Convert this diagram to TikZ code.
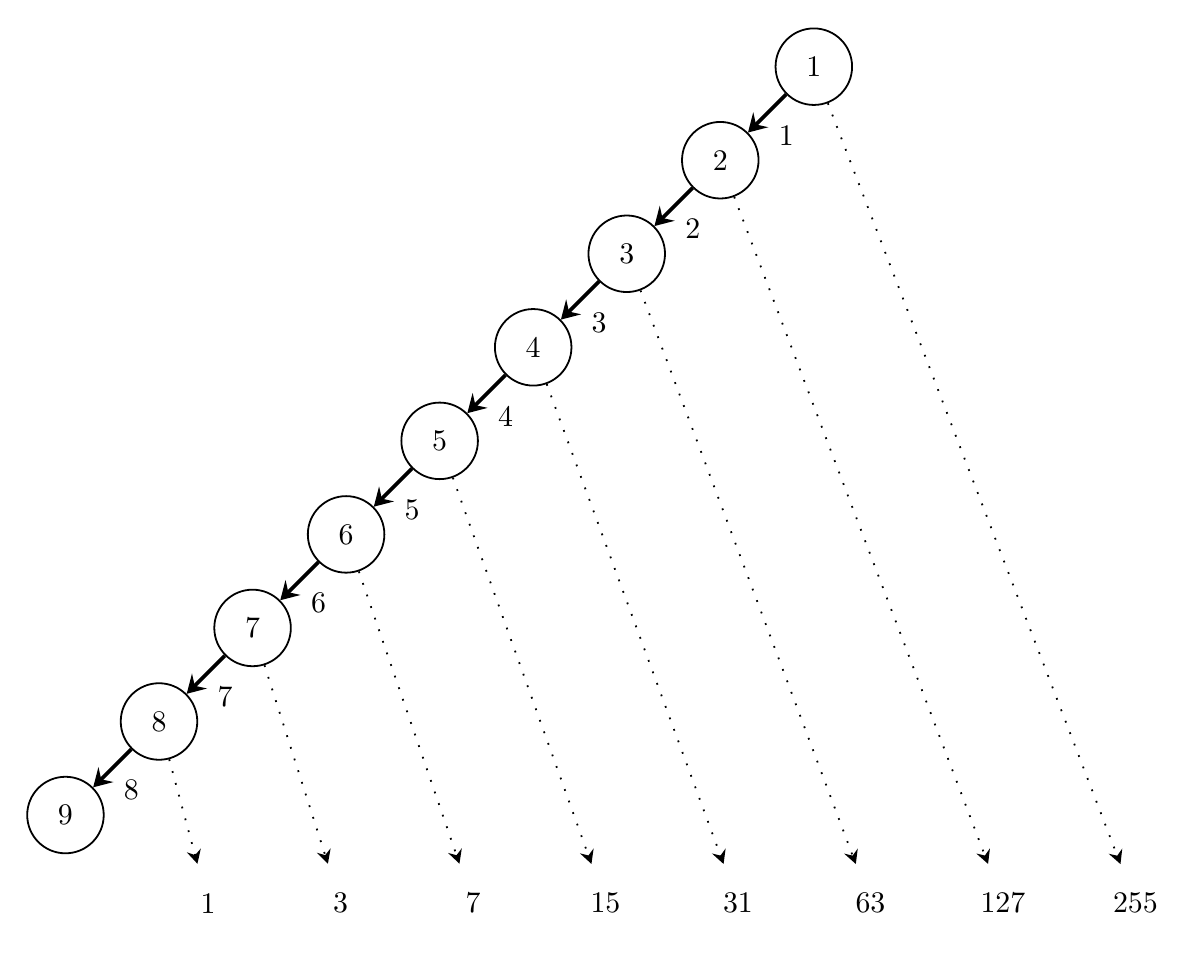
\documentclass[tikz,border=0pt]{standalone}
\usepackage{amsmath}
\usepackage{tikz}
\usetikzlibrary{arrows.meta,positioning}

\begin{document}
\begin{tikzpicture}[node distance=1.1cm and 1.1cm,on grid,
  vertex/.style={circle,draw,semithick,minimum size=0.9cm},
  call/.style={-{Stealth[length=6pt,width=7pt,inset=2.2pt]},very thick},
  cost/.style={-{Stealth[length=4.6pt,width=4.8pt,inset=1.6pt]},semithick,
    dash pattern=on 0.6pt off 3.5pt,shorten >=6.5pt}]
  \useasboundingbox (-9.570,-10.611) rectangle (4.541,0.784);
  % the chain of calls
  \node[vertex] (n1) {1};
  \node[vertex] (n2) [below left=of n1] {2};
  \node[vertex] (n3) [below left=of n2] {3};
  \node[vertex] (n4) [below left=of n3] {4};
  \node[vertex] (n5) [below left=of n4] {5};
  \node[vertex] (n6) [below left=of n5] {6};
  \node[vertex] (n7) [below left=of n6] {7};
  \node[vertex] (n8) [below left=of n7] {8};
  \node[vertex] (n9) [below left=of n8] {9};
  % totals along the bottom
  \node (c1) at (-7.124,-9.835) {1};
  \node (c3) [right=1.558cm of c1] {3};
  \node (c7) [right=1.558cm of c3] {7};
  \node (c15) [right=1.558cm of c7] {15};
  \node (c31) [right=1.558cm of c15] {31};
  \node (c63) [right=1.558cm of c31] {63};
  \node (c127) [right=1.558cm of c63] {127};
  \node (c255) [right=1.558cm of c127] {255};
  \draw[call] (n1) -- node[below right] {1} (n2);
  \draw[call] (n2) -- node[below right] {2} (n3);
  \draw[call] (n3) -- node[below right] {3} (n4);
  \draw[call] (n4) -- node[below right] {4} (n5);
  \draw[call] (n5) -- node[below right] {5} (n6);
  \draw[call] (n6) -- node[below right] {6} (n7);
  \draw[call] (n7) -- node[below right] {7} (n8);
  \draw[call] (n8) -- node[below right] {8} (n9);
  \draw[cost] (n8) -- (c1);
  \draw[cost] (n7) -- (c3);
  \draw[cost] (n6) -- (c7);
  \draw[cost] (n5) -- (c15);
  \draw[cost] (n4) -- (c31);
  \draw[cost] (n3) -- (c63);
  \draw[cost] (n2) -- (c127);
  \draw[cost] (n1) -- (c255);
\end{tikzpicture}
\end{document}
